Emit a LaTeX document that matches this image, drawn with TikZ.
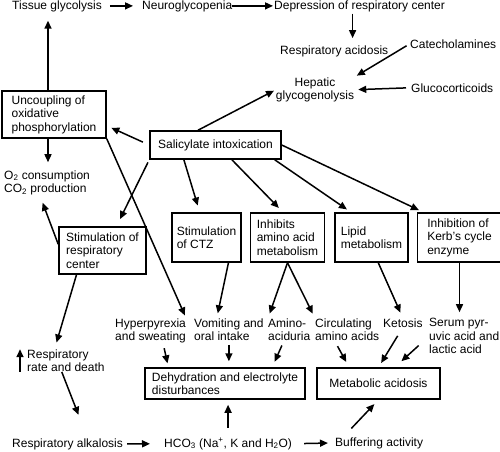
\documentclass[tikz,border=0pt]{standalone}
\usepackage{fontspec}
\setmainfont{Liberation Sans}
\usepackage{tikz}
\usetikzlibrary{arrows.meta,positioning}

\begin{document}
\begin{tikzpicture}[x=1pt, y=-1pt,
      box/.style={draw, line width=1.5pt, inner sep=3pt, align=left,
                  font=\fontsize{12}{13.5}\selectfont},
      lbl/.style={inner sep=0pt, align=left,
                  font=\fontsize{12}{13.5}\selectfont},
      arr/.style={-{Triangle[length=8pt,width=7pt]}, line width=1.5pt}
  ]
    \useasboundingbox (0,0) rectangle (500,451);
    \node[lbl, anchor=base west] (tg)  at (12,9)  {Tissue glycolysis};
    \node[lbl, anchor=base west] (ng)  at (142,9) {Neuroglycopenia};
    \node[lbl, anchor=base west] (dep) at (274,9) {Depression of respiratory center};
    \node[lbl, anchor=base west] (ra)  at (280,54) {Respiratory acidosis};
    \node[lbl, anchor=base west] (cat) at (410,48) {Catecholamines};
    \node[lbl, anchor=base west] (glu) at (411,92) {Glucocorticoids};
    \node[lbl, align=center, anchor=north] (hep) at (315,77.2) {Hepatic\\glycogenolysis};
    \node[box, minimum width=104pt, minimum height=47pt] (unc) at (54,114.5)
        {Uncoupling of\\oxidative\\phosphorylation};
    \node[box, align=center, minimum width=131pt, minimum height=28pt] (sal) at (215.5,145)
        {Salicylate intoxication};
    \node[lbl, anchor=north west] (o2) at (4,170.2)
        {O\textsubscript{2} consumption\\CO\textsubscript{2} production};
    \node[box, minimum width=87pt, minimum height=47pt] (srs) at (102.5,250.5)
        {Stimulation of\\respiratory\\center};
    \node[box, minimum width=69pt, minimum height=49pt] (ctz) at (206.5,237.5)
        {Stimulation\\of CTZ};
    \node[box, minimum width=74pt, minimum height=49pt, right=8pt of ctz] (ami)
        {Inhibits\\amino acid\\metabolism};
    \node[box, minimum width=73pt, minimum height=49pt, right=9pt of ami] (lip)
        {Lipid\\metabolism};
    \node[box, minimum width=84pt, minimum height=49pt, right=8pt of lip] (krb)
        {Inhibition of\\Kerb's cycle\\enzyme};
    \node[lbl, anchor=north west] (hyp) at (115,318.2) {Hyperpyrexia\\and sweating};
    \node[lbl, anchor=north west] (vom) at (194,318.2) {Vomiting and\\oral intake};
    \node[lbl, anchor=north west] (amn) at (268,318.2) {Amino-\\aciduria};
    \node[lbl, anchor=north west] (cir) at (315,318.2) {Circulating\\amino acids};
    \node[lbl, anchor=base west]  (ket) at (383,327) {Ketosis};
    \node[lbl, anchor=north west] (ser) at (429,318.2) {Serum pyr-\\uvic acid and\\lactic acid};
    \node[lbl, anchor=north west] (rrd) at (27,349.2) {Respiratory\\rate and death};
    \node[box, minimum width=160pt, minimum height=31pt] (deh) at (225,383.5)
        {Dehydration and electrolyte\\disturbances};
    \node[box, align=center, minimum width=123pt, minimum height=31pt] (met) at (378.5,383.5)
        {Metabolic acidosis};
    \node[lbl, anchor=base west] (ral) at (12,447) {Respiratory alkalosis};
    \node[lbl, anchor=base west] (hco) at (164,447)
        {HCO\textsubscript{3} (Na\textsuperscript{+}, K and H\textsubscript{2}O)};
    \node[lbl, anchor=base west] (buf) at (335,446) {Buffering activity};

    \draw[arr, shorten <=8pt, shorten >=9pt] (tg.east) -- (ng.west);
    \draw[arr, shorten >=1pt] (ng.east) -- (dep.west);
    \draw[arr, shorten <=2pt, shorten >=7pt] ([xshift=-7pt]dep.south) -- ([xshift=-7pt]dep.south |- ra.north);
    \draw[arr, shorten <=4pt, shorten >=3pt] (cat.west) -- (hep.north east);
    \draw[arr, shorten <=5pt, shorten >=4pt] (glu.west) -- (hep.east);
    \draw[arr, shorten >=2pt] (sal.140) -- (hep.west);
    \draw[arr, shorten >=9pt] ([xshift=-6pt]unc.north) -- ([xshift=-6pt]unc.north |- tg.south);
    \draw[arr, shorten >=8pt] ([xshift=-6pt]unc.south) -- ([xshift=-6pt]unc.south |- o2.north);
    \draw[arr, shorten <=7pt, shorten >=5pt] (sal.west) -- (unc.-12);
    \draw[arr, shorten >=3pt] (unc.south east) -- (hyp.north east);
    \draw[arr, shorten <=3pt, shorten >=8pt] (sal.south west) -- (srs.60);
    \draw[arr, shorten >=7pt] (sal.205) -- (ctz.105);
    \draw[arr, shorten >=6pt] (sal.-42) -- (ami.100);
    \draw[arr, shorten >=5pt] (sal.-14) -- (lip.129);
    \draw[arr, shorten >=5pt] (sal.east) -- (krb.145);
    \draw[arr, shorten >=8pt] (srs.172) -- (o2.240);
    \draw[arr, shorten >=7pt] (srs.223) -- (rrd.135);
    \draw[arr] ([xshift=-7pt]rrd.south west) -- ([xshift=-7pt]rrd.north west);
    \draw[arr, shorten >=25pt] (rrd.250) -- ([xshift=20pt]ral.north);
    \draw[arr, shorten <=4pt, shorten >=14pt] (ral.east) -- (hco.west);
    \draw[arr, shorten <=12pt, shorten >=7pt] (hco.east) -- (buf.west);
    \draw[arr, shorten <=10pt, shorten >=5pt] (hco.north) -- (hco.north |- deh.south);
    \draw[arr, shorten <=12pt, shorten >=6pt] ([xshift=-36pt]buf.north) -- (met.south);
    \draw[arr, shorten <=5pt, shorten >=4pt] (hyp.-45) -- (deh.164);
    \draw[arr, shorten <=4pt, shorten >=6pt] (vom.south) -- (vom.south |- deh.north);
    \draw[arr, shorten <=5pt, shorten >=6pt] (amn.-115) -- (deh.19);
    \draw[arr, shorten <=6pt, shorten >=6pt] (cir.-138) -- (met.151);
    \draw[arr, shorten <=10pt, shorten >=5pt] (ket.south) -- (met.north);
    \draw[arr, shorten <=14pt, shorten >=9pt] (ser.west) -- (met.45);
    \draw[arr, shorten >=5pt] (ctz.-49) -- (vom.137);
    \draw[arr, shorten >=5pt] (ami.south) -- (amn.north west);
    \draw[arr, shorten >=5pt] (ami.south) -- (cir.north west);
    \draw[arr, shorten >=6pt] (lip.-75) -- (ket.north);
    \draw[arr, shorten >=6pt] (krb.south) -- (krb.south |- ser.north);
  \end{tikzpicture}
\end{document}
